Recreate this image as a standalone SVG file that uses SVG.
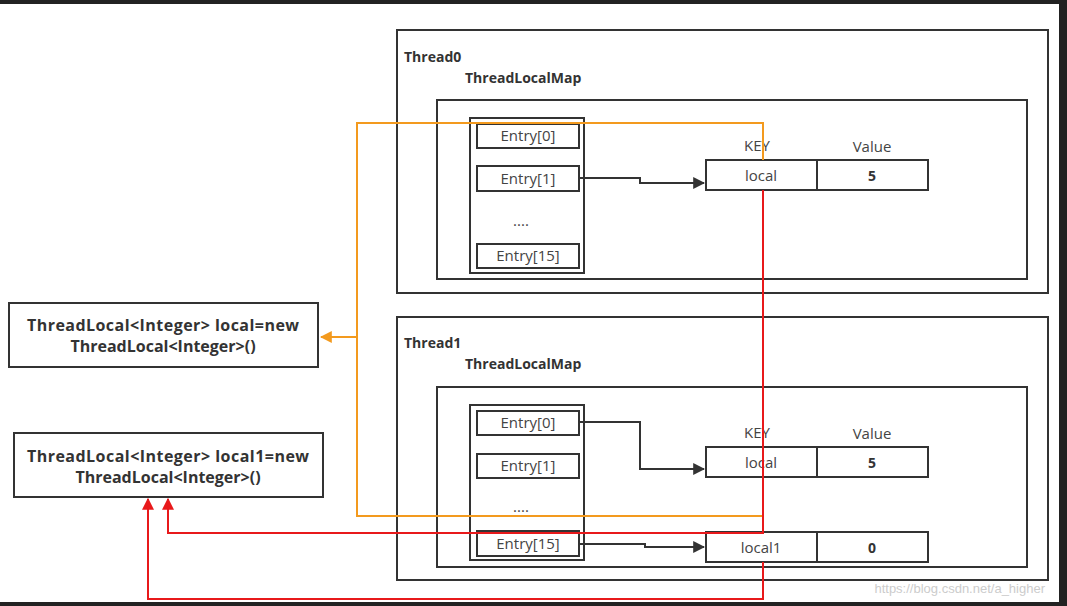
<svg xmlns="http://www.w3.org/2000/svg" width="1067" height="606" viewBox="0 0 1067 606">
<defs>
<style>
.b{fill:#fff;stroke:#333;stroke-width:2}
.t{font-family:"Open Sans","Liberation Sans",sans-serif;font-size:15px;fill:#444}
.tb{font-family:"Open Sans","Liberation Sans",sans-serif;font-size:14px;font-weight:bold;fill:#333}
.tl{font-family:"Open Sans","Liberation Sans",sans-serif;font-size:16px;font-weight:bold;fill:#333}
.c{text-anchor:middle}
.k{fill:none;stroke:#333;stroke-width:2}
.o{fill:none;stroke:#f39a1e;stroke-width:2}
.r{fill:none;stroke:#e8191b;stroke-width:2}
</style>
<marker id="ak" viewBox="0 0 10 10" refX="9" refY="5" markerWidth="12" markerHeight="12" markerUnits="userSpaceOnUse" orient="auto"><path d="M0,0L10,5L0,10z" fill="#333"/></marker>
<marker id="ao" viewBox="0 0 10 10" refX="9" refY="5" markerWidth="12" markerHeight="12" markerUnits="userSpaceOnUse" orient="auto"><path d="M0,0L10,5L0,10z" fill="#f39a1e"/></marker>
<marker id="ar" viewBox="0 0 10 10" refX="9" refY="5" markerWidth="12" markerHeight="12" markerUnits="userSpaceOnUse" orient="auto"><path d="M0,0L10,5L0,10z" fill="#e8191b"/></marker>
</defs>
<rect width="1067" height="606" fill="#fff"/>
<rect x="0" y="0" width="1067" height="4" fill="#222"/>
<rect x="1059" y="0" width="8" height="606" fill="#222"/>
<rect x="0" y="602" width="1067" height="4" fill="#222"/>

<g id="thread0">
<rect class="b" x="397" y="30" width="651" height="263"/>
<text class="tb" x="404" y="62">Thread0</text>
<text class="tb" x="465" y="83">ThreadLocalMap</text>
<rect class="b" x="437" y="100" width="590" height="179"/>
<rect class="b" x="470" y="118" width="114" height="155" stroke-width="3"/>
<rect class="b" x="477" y="124" width="102" height="24"/><text class="t c" x="528" y="141">Entry[0]</text>
<rect class="b" x="477" y="166" width="102" height="25"/><text class="t c" x="528" y="184">Entry[1]</text>
<text class="t c" x="521" y="226" font-size="11">....</text>
<rect class="b" x="477" y="244" width="102" height="24"/><text class="t c" x="528" y="261">Entry[15]</text>
<text class="t c" x="757" y="151">KEY</text><text class="t c" x="872" y="152">Value</text>
<rect class="b" x="706" y="160" width="111" height="30"/><text class="t c" x="761" y="181">local</text>
<rect class="b" x="817" y="160" width="111" height="30"/><text class="tb c" x="872" y="181">5</text>
</g>

<g id="thread1">
<rect class="b" x="397" y="317" width="651" height="263"/>
<text class="tb" x="404" y="348">Thread1</text>
<text class="tb" x="465" y="369">ThreadLocalMap</text>
<rect class="b" x="437" y="387" width="590" height="180"/>
<rect class="b" x="470" y="405" width="114" height="155" stroke-width="3"/>
<rect class="b" x="477" y="411" width="102" height="24"/><text class="t c" x="528" y="428">Entry[0]</text>
<rect class="b" x="477" y="454" width="102" height="24"/><text class="t c" x="528" y="471">Entry[1]</text>
<text class="t c" x="521" y="512" font-size="11">....</text>
<rect class="b" x="477" y="531" width="102" height="25"/><text class="t c" x="528" y="549">Entry[15]</text>
<text class="t c" x="757" y="438">KEY</text><text class="t c" x="872" y="439">Value</text>
<rect class="b" x="706" y="447" width="111" height="30"/><text class="t c" x="761" y="468">local</text>
<rect class="b" x="817" y="447" width="111" height="30"/><text class="tb c" x="872" y="468">5</text>
<rect class="b" x="706" y="532" width="111" height="30"/><text class="t c" x="761" y="553">local1</text>
<rect class="b" x="817" y="532" width="111" height="30"/><text class="tb c" x="872" y="553">0</text>
</g>

<g id="local">
<rect class="b" x="9" y="303" width="309" height="64"/>
<text class="tl c" x="163" y="331" textLength="272">ThreadLocal&lt;Integer&gt; local=new</text>
<text class="tl c" x="163" y="352">ThreadLocal&lt;Integer&gt;()</text>
</g>
<g id="local1">
<rect class="b" x="14" y="433" width="309" height="64"/>
<text class="tl c" x="168" y="462" textLength="282">ThreadLocal&lt;Integer&gt; local1=new</text>
<text class="tl c" x="168" y="483">ThreadLocal&lt;Integer&gt;()</text>
</g>

<g id="connectors">
<path class="k" d="M579,178H640V183H704" marker-end="url(#ak)"/>
<path class="k" d="M579,422H640V469H704" marker-end="url(#ak)"/>
<path class="k" d="M579,544H645V547H704" marker-end="url(#ak)"/>
<path class="o" d="M763,160V123H357V516H763"/>
<path class="o" d="M357,337H321" marker-end="url(#ao)"/>
<path class="r" d="M763,190V533H168V499" marker-end="url(#ar)"/>
<path class="r" d="M763,562V599H148V499" marker-end="url(#ar)"/>
</g>
<text x="1045" y="593" text-anchor="end" font-family="Liberation Sans,sans-serif" font-size="13" fill="#ccc">https://blog.csdn.net/a_higher</text>
</svg>
